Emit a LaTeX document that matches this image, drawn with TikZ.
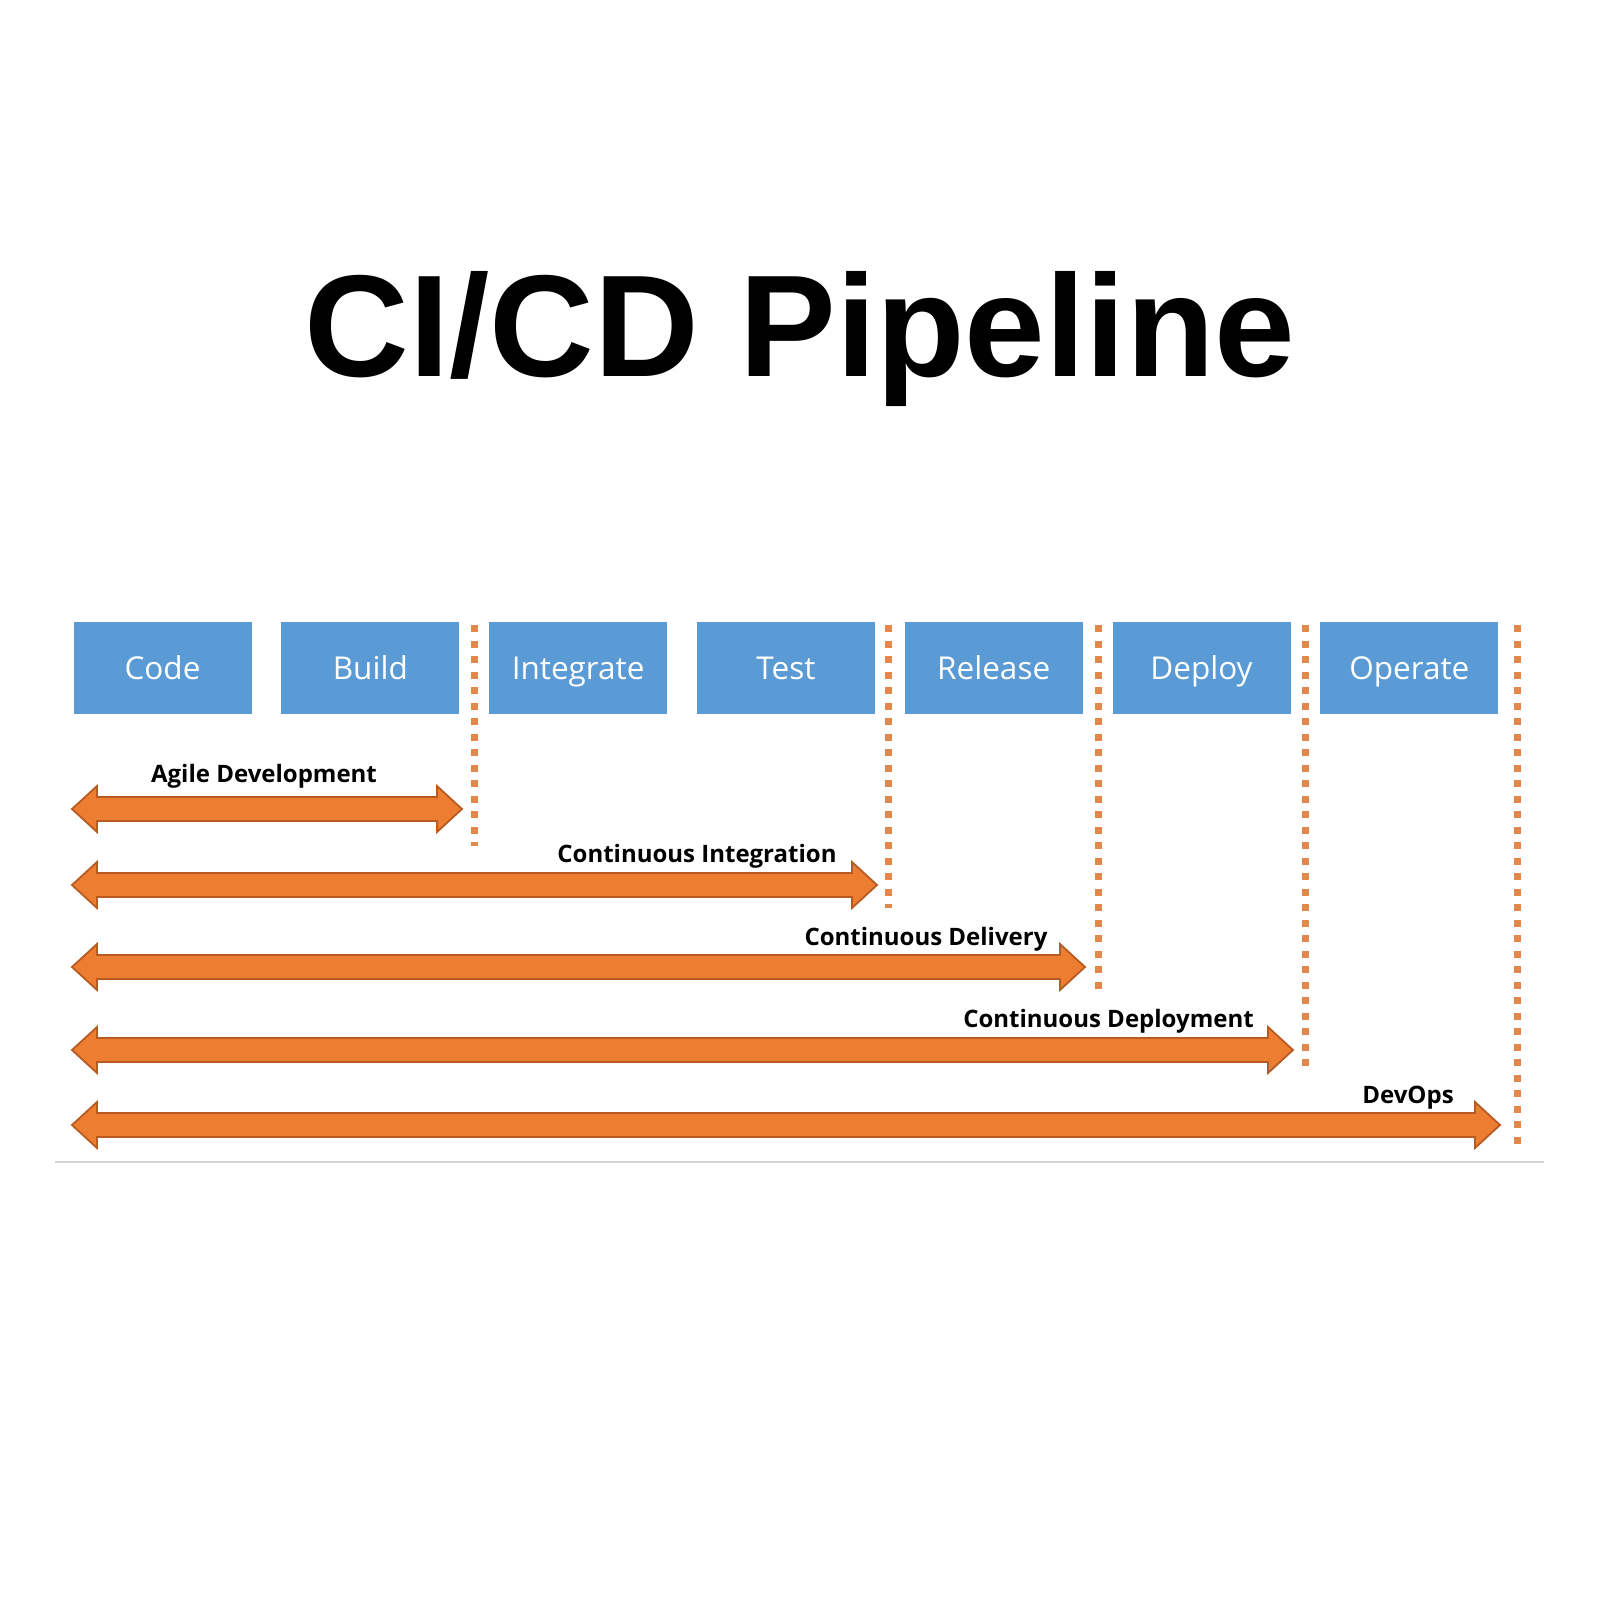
\documentclass[tikz,border=0pt]{standalone}
\usepackage{fontspec}
\setmainfont{Liberation Sans}
\newfontfamily\titlefont{Liberation Sans}
\newfontfamily\boxfont{Open Sans}
\usetikzlibrary{calc}
\definecolor{boxblue}{HTML}{5B9BD5}
\definecolor{arrorange}{HTML}{ED7D31}
\definecolor{arredge}{HTML}{B85A22}
\definecolor{dotorange}{HTML}{E2884A}
\definecolor{rulegrey}{HTML}{D4D4D4}
\newcommand\bandarrowdraw[2]{%
  \path[bandarrow] let \p1=(#1), \p2=(#2) in
   (\x1,\y1) -- (\x1+25pt,\y1+23pt) -- (\x1+25pt,\y1+12pt) -- (\x2-25pt,\y1+12pt)
   -- (\x2-25pt,\y1+23pt) -- (\x2,\y1) -- (\x2-25pt,\y1-23pt) -- (\x2-25pt,\y1-12pt)
   -- (\x1+25pt,\y1-12pt) -- (\x1+25pt,\y1-23pt) -- cycle;}
\begin{document}
\begin{tikzpicture}[x=1pt,y=-1pt,
  stagebox/.style={fill=boxblue, draw=none, minimum width=178pt, minimum height=92pt,
    inner sep=0pt, text=white, text height=22pt, text depth=0pt,
    font=\boxfont\fontsize{31.5}{32}\selectfont},
  phaselabel/.style={anchor=base, inner sep=0pt, font=\boxfont\bfseries\fontsize{24}{25}\selectfont},
  bandarrow/.style={fill=arrorange, draw=arredge, line width=1.8pt, line join=miter},
  divider/.style={draw=dotorange, line width=7pt, dash pattern=on 7pt off 8.5pt},
  ]
\fill[white] (0,0) rectangle (1600,1600);
\useasboundingbox (0,0) rectangle (1600,1600);

\node[anchor=base, inner sep=0pt, font=\titlefont\bfseries\fontsize{145}{150}\selectfont] (title) at (800,376) {CI/CD Pipeline};

\node[stagebox] (code)      at (162.5,668) {Code};
\node[stagebox] (build)     at (370.3,668) {Build};
\node[stagebox] (integrate) at (578.1,668) {Integrate};
\node[stagebox] (test)      at (785.9,668) {Test};
\node[stagebox] (release)   at (993.7,668) {Release};
\node[stagebox] (deploy)    at (1201.5,668) {Deploy};
\node[stagebox] (operate)   at (1409.3,668) {Operate};

\draw[divider] (474.5,625) -- (474.5,846);
\draw[divider] (888,625) -- (888,908);
\draw[divider] (1098,625) -- (1098,990);
\draw[divider] (1305,625) -- (1305,1074);
\draw[divider] (1517,625) -- (1517,1150);

\coordinate (a1l) at (72,809);  \coordinate (a1r) at (462,809);
\coordinate (a2l) at (72,885);  \coordinate (a2r) at (877,885);
\coordinate (a3l) at (72,967);  \coordinate (a3r) at (1085,967);
\coordinate (a4l) at (72,1050); \coordinate (a4r) at (1293,1050);
\coordinate (a5l) at (72,1125); \coordinate (a5r) at (1500,1125);
\bandarrowdraw{a1l}{a1r}
\bandarrowdraw{a2l}{a2r}
\bandarrowdraw{a3l}{a3r}
\bandarrowdraw{a4l}{a4r}
\bandarrowdraw{a5l}{a5r}

\node[phaselabel] (agile)  at (264,782)  {Agile Development};
\node[phaselabel] (ci)     at (697,862)  {Continuous Integration};
\node[phaselabel] (cdel)   at (926,945)  {Continuous Delivery};
\node[phaselabel] (cdep)   at (1108.5,1027) {Continuous Deployment};
\node[phaselabel] (devops) at (1408,1103) {DevOps};

\draw[rulegrey, line width=2pt] (55,1162) -- (1544,1162);
\end{tikzpicture}
\end{document}
